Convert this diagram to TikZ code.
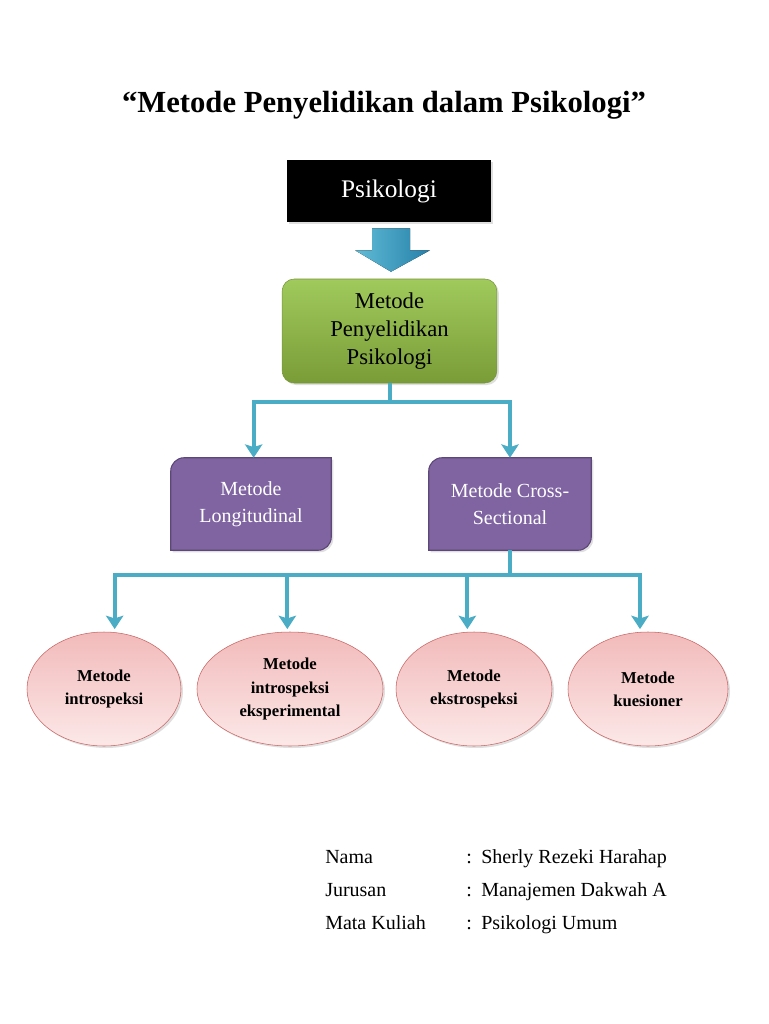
\documentclass[tikz,border=0pt]{standalone}
\usepackage{fontspec}
\setmainfont{Liberation Serif}
\usetikzlibrary{arrows.meta,positioning,shapes.geometric,shadows,backgrounds,calc}
\definecolor{linkblue}{RGB}{75,172,198}
\definecolor{arrowlight}{RGB}{96,188,214}
\definecolor{arrowdark}{RGB}{38,128,170}
\definecolor{greentop}{RGB}{160,202,92}
\definecolor{greenbot}{RGB}{122,156,56}
\definecolor{greenline}{RGB}{118,148,58}
\definecolor{purplefill}{RGB}{128,100,162}
\definecolor{purpleline}{RGB}{92,71,118}
\definecolor{pinktop}{RGB}{242,186,186}
\definecolor{pinkbot}{RGB}{252,232,232}
\definecolor{pinkline}{RGB}{200,100,98}

\begin{document}
\begin{tikzpicture}[x=0.75pt, y=0.75pt,
        softshadow/.style={drop shadow={opacity=0.25, shadow xshift=1.5pt, shadow yshift=-1.5pt}},
        title/.style={font=\fontsize{23}{27}\selectfont\bfseries},
        topbox/.style={rectangle, fill=black, text=white, minimum width=153pt, minimum height=46.5pt, font=\fontsize{19}{23}\selectfont, softshadow},
        mainbox/.style={rectangle, rounded corners=9pt, draw=greenline, top color=greentop, bottom color=greenbot, minimum width=161pt, minimum height=78pt, align=center, font=\fontsize{17}{21}\selectfont, softshadow},
        methodbox/.style={rectangle, minimum height=69pt, align=center, text=white, font=\fontsize{15}{20}\selectfont},
        leaf/.style={ellipse, draw=pinkline, thin, top color=pinktop, bottom color=pinkbot, inner sep=0pt, minimum height=85.5pt, align=center, font=\fontsize{12.5}{17.5}\selectfont\bfseries, softshadow},
        conn/.style={linkblue, line width=3pt, -{Stealth[length=10pt, width=13pt, inset=2pt]}},
        info/.style={anchor=base west, inner sep=0pt, font=\fontsize{15}{18}\selectfont}
    ]
        \useasboundingbox (0,0) rectangle (768,-1024);

        % Title
        \node[title] (title) at (384,-105) {“Metode Penyelidikan dalam Psikologi”};

        % Boxes
        \node[topbox] (top) at (389,-191) {Psikologi};
        \node[mainbox] (main) at (389.5,-331) {Metode\\Penyelidikan\\Psikologi};
        \node[methodbox, minimum width=120pt] (longi) at (251,-504) {Metode\\Longitudinal};
        \node[methodbox, minimum width=121.5pt] (cross) at (510,-504) {Metode Cross-\\Sectional};

        % Ellipses
        \node[leaf, minimum width=115.5pt] (intro) at (104,-689) {Metode\\introspeksi};
        \node[leaf, minimum width=139.5pt] (introexp) at (290,-689) {Metode\\introspeksi\\eksperimental};
        \node[leaf, minimum width=117pt] (ekstro) at (474,-689) {Metode\\ekstrospeksi};
        \node[leaf, minimum width=120pt] (kues) at (648,-689) {Metode\\kuesioner};

        % Purple shapes behind the method boxes
        \begin{scope}[on background layer]
            \foreach \n in {longi,cross}
                \filldraw[fill=purplefill, draw=purpleline, line width=0.8pt, softshadow]
                    (\n.south west) -- ([yshift=-10pt]\n.north west)
                    arc[start angle=180, end angle=90, radius=10pt]
                    -- (\n.north east) -- ([yshift=10pt]\n.south east)
                    arc[start angle=0, end angle=-90, radius=10pt] -- cycle;
        \end{scope}

        % Block arrow
        \fill[left color=arrowlight, right color=arrowdark]
            ($(top.south)+(-17,-6)$) -- ($(top.south)+(21,-6)$) -- ($(top.south)+(21,-28)$)
            -- ($(top.south)+(41,-28)$) -- ($(main.north)+(1.5,7)$) -- ($(top.south)+(-34,-28)$)
            -- ($(top.south)+(-17,-28)$) -- cycle;

        % Connectors
        \draw[conn] (main.south) -- ++(0,-19) -| ([xshift=2pt]longi.north);
        \draw[conn] (main.south) -- ++(0,-19) -| (cross.north);
        \draw[conn, shorten >=2pt] (cross.south) -- ++(0,-25) -| ([xshift=8pt]intro.north);
        \draw[conn, shorten >=2pt] (cross.south) -- ++(0,-25) -| ([xshift=-2pt]introexp.north);
        \draw[conn, shorten >=2pt] (cross.south) -- ++(0,-25) -| ([xshift=-5pt]ekstro.north);
        \draw[conn, shorten >=2pt] (cross.south) -- ++(0,-25) -| ([xshift=-6pt]kues.north);

        % Identity
        \node[info] (namelbl) at (325,-863) {Nama};
        \node[info] (namecol) at (466,-863) {:};
        \node[info] (nameval) at (481,-863) {Sherly Rezeki Harahap};
        \node[info] (jurlbl) at (325,-896) {Jurusan};
        \node[info] (jurcol) at (466,-896) {:};
        \node[info] (jurval) at (481,-896) {Manajemen Dakwah A};
        \node[info] (mklbl) at (325,-929) {Mata Kuliah};
        \node[info] (mkcol) at (466,-929) {:};
        \node[info] (mkval) at (481,-929) {Psikologi Umum};
\end{tikzpicture}
\end{document}
